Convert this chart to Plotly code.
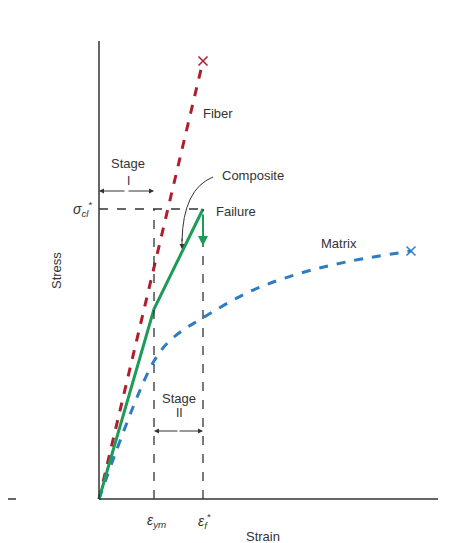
import plotly.graph_objects as go

# coordinates: strain / stress in arbitrary units (origin at axis corner)
fiber_x = [0, 104]
fiber_y = [0, 438]
matrix_x = [0, 55, 75, 102, 152, 202, 252, 312]
matrix_y = [0, 138, 162, 180, 208, 226, 238, 248]
comp_x = [0, 55, 104]
comp_y = [0, 190, 290]
eps_ym = 55
eps_f = 104
sigma_cl = 290

fig = go.Figure()
fig.add_trace(go.Scatter(x=fiber_x, y=fiber_y, mode='lines',
                         line=dict(color='#b01e2e', width=3, dash='dash')))
fig.add_trace(go.Scatter(x=matrix_x, y=matrix_y, mode='lines', line_shape='spline',
                         line=dict(color='#2e7cc4', width=3, dash='dash')))
fig.add_trace(go.Scatter(x=comp_x, y=comp_y, mode='lines',
                         line=dict(color='#1e9a5a', width=3)))
fig.add_trace(go.Scatter(x=[fiber_x[-1], matrix_x[-1]], y=[fiber_y[-1], matrix_y[-1]],
                         mode='markers',
                         marker=dict(symbol='x-thin', size=9, color=['#b01e2e', '#2e7cc4'],
                                     line=dict(width=1.5, color=['#b01e2e', '#2e7cc4']))))

grey = '#333333'
dline = dict(color=grey, width=1.3, dash='dash')
fig.add_shape(type='line', x0=0, y0=0, x1=0, y1=458, line=dict(color=grey, width=1.5))
fig.add_shape(type='line', x0=0, y0=0, x1=339, y1=0, line=dict(color=grey, width=1.5))
fig.add_shape(type='line', x0=-91, y0=0, x1=-83, y1=0, line=dict(color=grey, width=1.5))
fig.add_shape(type='line', x0=eps_ym, y0=0, x1=eps_ym, y1=sigma_cl, line=dline)
fig.add_shape(type='line', x0=eps_f, y0=0, x1=eps_f, y1=sigma_cl, line=dline)
fig.add_shape(type='line', x0=0, y0=sigma_cl, x1=eps_f, y1=sigma_cl, line=dline)
# composite curved pointer
fig.add_shape(type='path', path='M 114 322 Q 84 310 83 258', line=dict(color=grey, width=1))

ann = []
def txt(x, y, s, size=13, **kw):
    ann.append(dict(x=x, y=y, text=s, showarrow=False, font=dict(size=size, color=grey,
                    family='Liberation Sans'), **kw))

def arrow(x0, y0, x1, y1, color=grey, w=1):
    ann.append(dict(x=x1, y=y1, ax=x0, ay=y0, xref='x', yref='y', axref='x', ayref='y',
                    text='', showarrow=True, arrowhead=2, arrowsize=1, arrowwidth=w,
                    arrowcolor=color))

arrow(27, 308, 0, 308); arrow(28, 308, eps_ym, 308)
arrow(80, 68, eps_ym, 68); arrow(79, 68, eps_f, 68)
arrow(83, 262, 83, 250)
arrow(eps_f, 286, eps_f, 253, color='#1e9a5a', w=2)

txt(29, 336, 'Stage'); txt(29, 318, 'I', size=12)
txt(80, 101, 'Stage'); txt(80, 86, 'II', size=12)
txt(154, 324, 'Composite')
txt(137, 288, 'Failure')
txt(119, 386, 'Fiber')
txt(240, 256, 'Matrix')
txt(-16, 290, '<i>σ</i><sub><i>cl</i></sub><sup>*</sup>', size=14)
txt(eps_ym + 2, -22, '<i>ε</i><sub><i>ym</i></sub>', size=14)
txt(eps_f + 1, -22, '<i>ε</i><sub><i>f</i></sub><sup>*</sup>', size=14)
txt(164, -37, 'Strain')
txt(-43, 228, 'Stress', textangle=-90)

fig.update_layout(annotations=ann, width=474, height=543, showlegend=False,
                  margin=dict(l=0, r=0, t=0, b=0), plot_bgcolor='white', paper_bgcolor='white',
                  xaxis=dict(range=[-91, 383], visible=False),
                  yaxis=dict(range=[-52, 491], visible=False))
fig.write_html("out.html")
